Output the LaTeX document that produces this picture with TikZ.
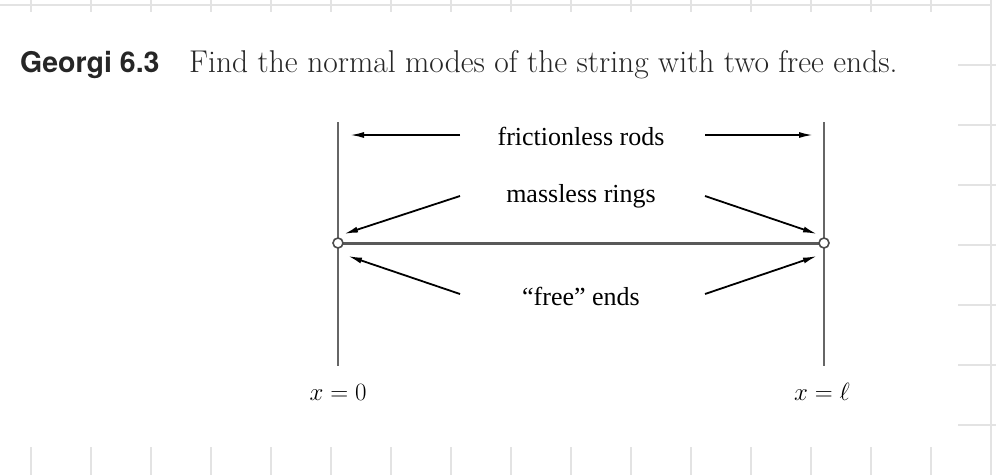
\documentclass[tikz,border=0pt]{standalone}
\usepackage{fontspec}
\setmainfont{Latin Modern Roman}
\newfontfamily\tms{Liberation Serif}
\newfontfamily\hv{TeX Gyre Heros}
\usetikzlibrary{arrows.meta}
\begin{document}
\begin{tikzpicture}[x=1pt,y=-1pt,
  grid/.style={draw=black!11,line width=2pt},
  rod/.style={draw=black!60,line width=1.6pt},
  arr/.style={-{Latex[length=14pt,width=6pt]},line width=1.8pt},
  lab/.style={font=\tms\fontsize{26}{30}\selectfont}]
\useasboundingbox (0,0) rectangle (996,475);
\fill[white] (0,0) rectangle (996,475);
% grid
\draw[grid] (0,5) -- (991,5);
\draw[grid] (991,0) -- (991,475);
\foreach \i in {0,...,15}{
  \draw[grid,line width=1.5pt] (31+60*\i,0) -- (31+60*\i,12);
  \draw[grid,line width=1.5pt] (31+60*\i,447) -- (31+60*\i,475);}
\foreach \i in {0,...,6}{\draw[grid] (958,65+60*\i) -- (996,65+60*\i);}
% title
\node[anchor=base west,inner sep=0,font=\hv\bfseries\fontsize{28.5}{32}\selectfont,text=black!85] (t1) at (20,72) {Georgi 6.3};
\node[anchor=base west,inner sep=0,font=\fontsize{31.5}{36}\selectfont,text=black!85] (t2) at (189,72) {Find the normal modes of the string with two free ends.};
% rods
\coordinate (r1t) at (338,122); \coordinate (r1b) at (338,366);
\coordinate (r2t) at (824,122); \coordinate (r2b) at (824,366);
\draw[rod] (r1t) -- (r1b);
\draw[rod] (r2t) -- (r2b);
\draw[draw=black!65,line width=3pt] (338,243) -- (824,243);
\node[circle,draw=black!70,fill=white,line width=1.6pt,minimum size=10pt,inner sep=0] (ra) at (338,243) {};
\node[circle,draw=black!70,fill=white,line width=1.6pt,minimum size=10pt,inner sep=0] (rb) at (824,243) {};
% labels
\node[lab] (fr) at (581,136) {frictionless rods};
\node[lab] (mr) at (581,196) {massless rings};
\node[lab] (fe) at (581,296) {“free” ends};
\coordinate (a1) at (460,135); \coordinate (a1e) at (350,135);
\coordinate (a2) at (705,135); \coordinate (a2e) at (813,135);
\coordinate (b1) at (460,196); \coordinate (b1e) at (344,234);
\coordinate (b2) at (705,196); \coordinate (b2e) at (817,234);
\coordinate (c1) at (460,294); \coordinate (c1e) at (348,256);
\coordinate (c2) at (705,294); \coordinate (c2e) at (817,256);
\foreach \s/\e in {a1/a1e,a2/a2e,b1/b1e,b2/b2e,c1/c1e,c2/c2e}{\draw[arr] (\s) -- (\e);}
\node[font=\fontsize{26}{30}\selectfont] (x0) at (338,392) {$x=0$};
\node[font=\fontsize{26}{30}\selectfont] (xl) at (822,392) {$x=\ell$};
\end{tikzpicture}
\end{document}
